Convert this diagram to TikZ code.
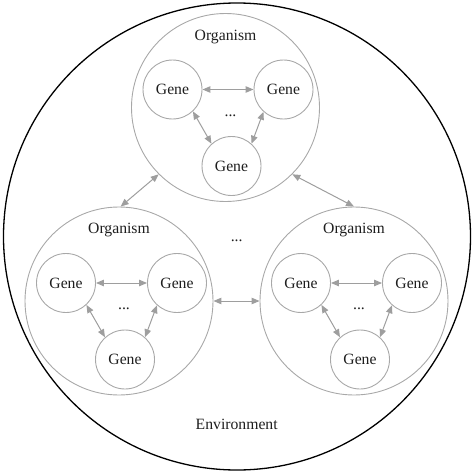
\documentclass[tikz,border=0pt]{standalone}
\usepackage{fontspec}
\setmainfont{Liberation Serif}
\usetikzlibrary{arrows.meta,calc}
\definecolor{circgray}{HTML}{A8A8A8}
\definecolor{arrgray}{HTML}{9E9E9E}
\definecolor{txt}{HTML}{1E1E1E}
\begin{document}
\begin{tikzpicture}[x=1pt,y=-1pt,
  txtstyle/.style={text=txt,font=\fontsize{15.7}{18}\selectfont},
  envcirc/.style={circle,draw=black,line width=1.3pt,minimum size=467pt,inner sep=0pt},
  orgcirc/.style={circle,draw=circgray,line width=0.9pt,minimum size=188pt,inner sep=0pt},
  genecirc/.style={circle,draw=circgray,line width=0.9pt,minimum size=59pt,inner sep=0pt,txtstyle},
  lab/.style={txtstyle,inner sep=0pt},
  dots/.style={txtstyle,inner sep=0pt,anchor=base},
  link/.style={draw=arrgray,line width=1pt,{Triangle[length=8pt,width=6.5pt]}-{Triangle[length=8pt,width=6.5pt]}}
]
\useasboundingbox (0,0) rectangle (474,474);
\node[envcirc] (env) at (237,236.5) {};
\node[lab] (envlab) at (236.7,424) {Environment};
\foreach \o/\cx/\cy in {T/225.5/107.5, L/119/301, R/354/301} {
  \node[orgcirc] (org\o) at (\cx,\cy) {};
  \node[lab] (lab\o) at ($(org\o)+(0,-71)$) {Organism};
  \node[genecirc] (g\o a) at ($(org\o)+(-53,-18)$) {Gene};
  \node[genecirc] (g\o b) at ($(org\o)+(58,-18)$) {Gene};
  \node[genecirc] (g\o c) at ($(org\o)+(6,58.5)$) {Gene};
  \node[dots] (d\o) at ($(org\o)+(5,8.5)$) {...};
  \draw[link] (g\o a) -- (g\o b);
  \draw[link] (g\o a.-47) -- (g\o c.132);
  \draw[link] (g\o b.-132) -- (g\o c.48);
}
\node[dots] (dmid) at (236.7,241.5) {...};
\draw[link] (orgT.225) -- (orgL.89);
\draw[link] (orgT.-45) -- (orgR.90);
\draw[link] (orgL) -- (orgR);
\end{tikzpicture}
\end{document}
